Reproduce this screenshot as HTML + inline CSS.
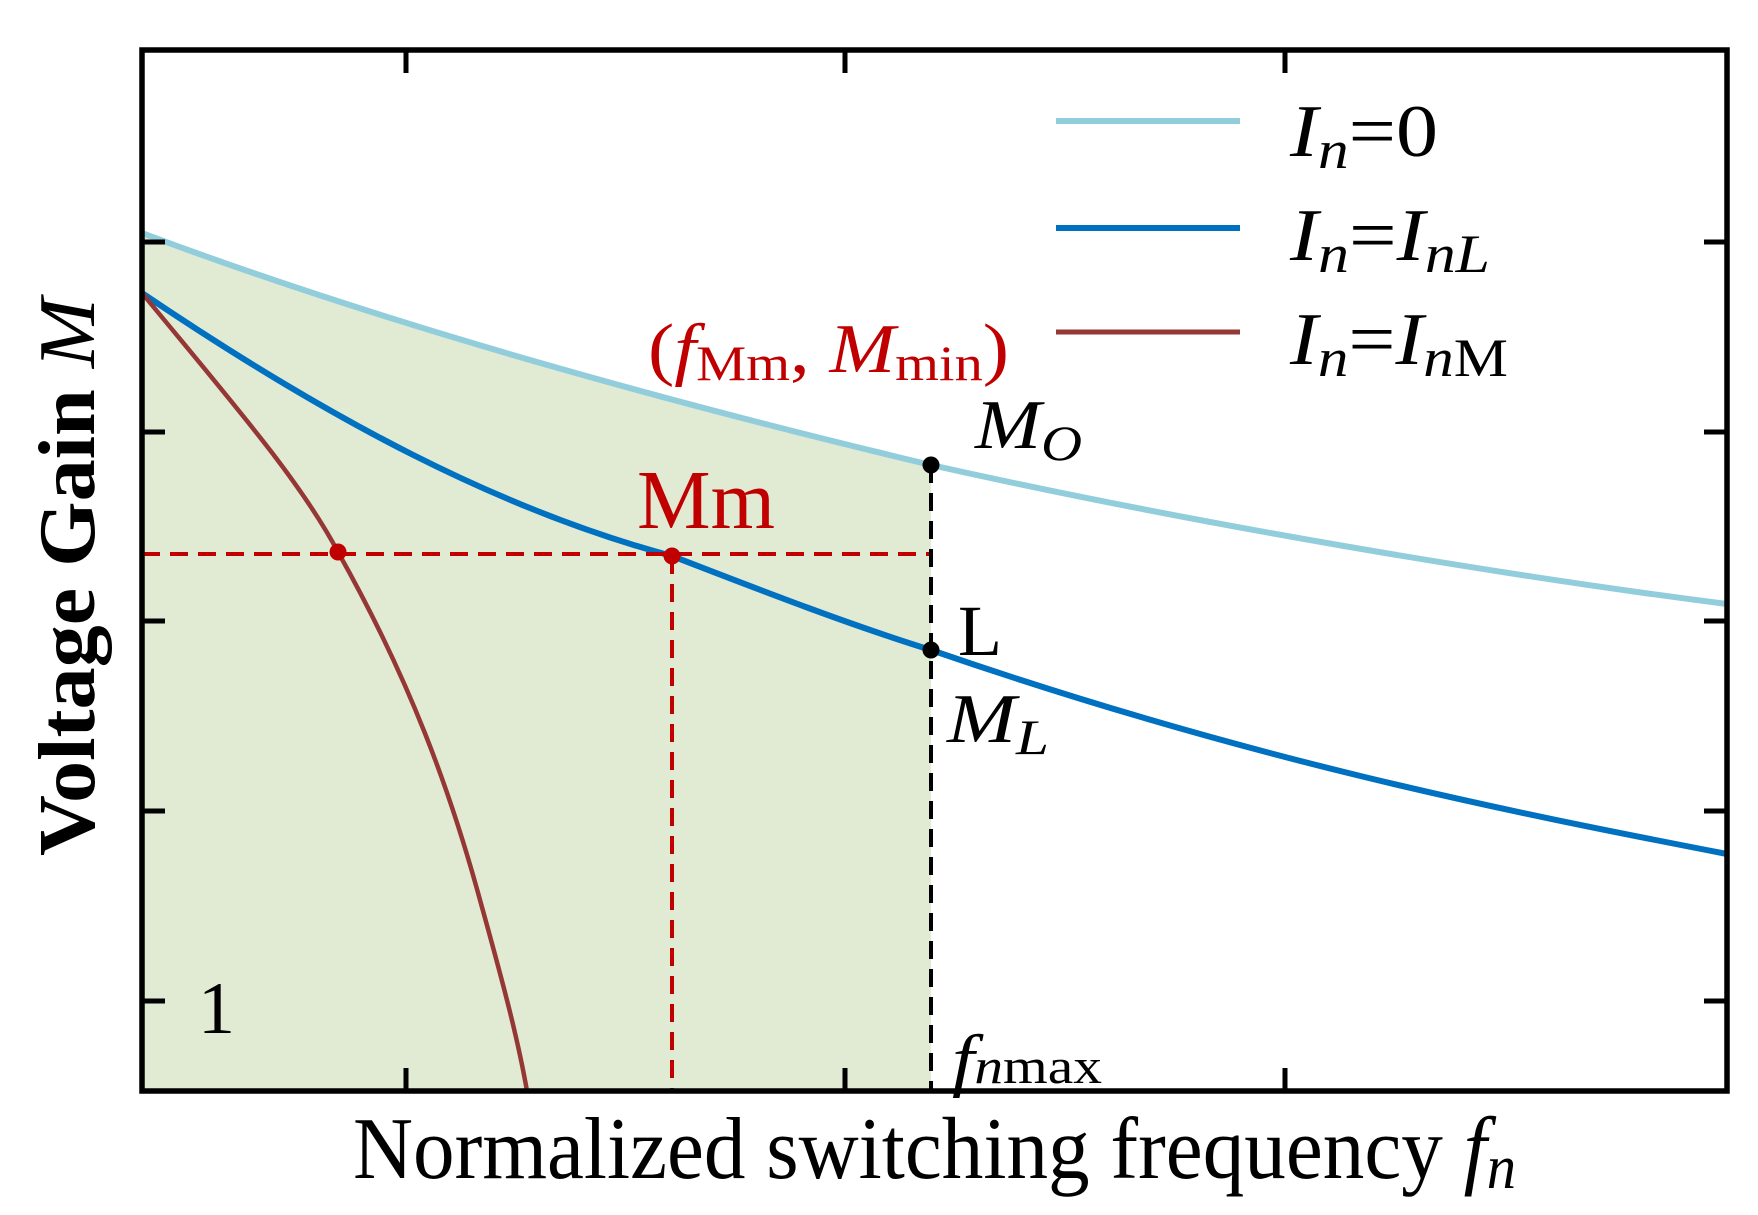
<!DOCTYPE html>
<html><head><meta charset="utf-8"><style>html,body{margin:0;padding:0;background:#fff}svg{display:block}text{font-family:"Liberation Serif",serif}</style></head>
<body>
<svg width="1758" height="1215" viewBox="0 0 1758 1215" xmlns="http://www.w3.org/2000/svg">
<path d="M142,233 C400,330 700,410 931,465 L931,1091 L142,1091 Z" fill="#e1ead3"/>
<path d="M142,233 C400,330 700,410 931,465 C1200,525 1500,575 1727,604" fill="none" stroke="#92cddc" stroke-width="6"/>
<path d="M142,293 C330,420 500,510 672,556 C760,590 850,625 931,650 C1250,760 1500,810 1727,854" fill="none" stroke="#0070c0" stroke-width="6"/>
<path d="M142,293 C230,400 300,480 338,552 C410,680 450,790 480,900 C505,990 518,1040 527,1091" fill="none" stroke="#953735" stroke-width="4.5"/>
<g stroke="#c00000" stroke-width="4" stroke-dasharray="18,10" fill="none">
<line x1="142" y1="554" x2="931" y2="554"/>
<line x1="672" y1="556" x2="672" y2="1091"/>
</g>
<line x1="931" y1="465" x2="931" y2="1091" stroke="#000" stroke-width="4" stroke-dasharray="18,10"/>
<circle cx="931" cy="465" r="8.5" fill="#000"/><circle cx="931" cy="650" r="8.5" fill="#000"/>
<circle cx="338" cy="552" r="8.5" fill="#c00000"/><circle cx="672" cy="556" r="8.5" fill="#c00000"/>
<rect x="142" y="50" width="1585" height="1041" fill="none" stroke="#000" stroke-width="5.5"/>
<g stroke="#000" stroke-width="5">
<line x1="142" y1="242" x2="165" y2="242"/><line x1="142" y1="432" x2="165" y2="432"/><line x1="142" y1="621" x2="165" y2="621"/><line x1="142" y1="811" x2="165" y2="811"/><line x1="142" y1="1001" x2="165" y2="1001"/>
<line x1="1727" y1="242" x2="1704" y2="242"/><line x1="1727" y1="432" x2="1704" y2="432"/><line x1="1727" y1="621" x2="1704" y2="621"/><line x1="1727" y1="811" x2="1704" y2="811"/><line x1="1727" y1="1001" x2="1704" y2="1001"/>
<line x1="406" y1="50" x2="406" y2="73"/><line x1="845" y1="50" x2="845" y2="73"/><line x1="1285" y1="50" x2="1285" y2="73"/>
<line x1="406" y1="1091" x2="406" y2="1068"/><line x1="845" y1="1091" x2="845" y2="1068"/><line x1="1285" y1="1091" x2="1285" y2="1068"/>
</g>
<line x1="1056" y1="121" x2="1240" y2="121" stroke="#92cddc" stroke-width="6"/>
<line x1="1056" y1="228" x2="1240" y2="228" stroke="#0070c0" stroke-width="6"/>
<line x1="1056" y1="332" x2="1240" y2="332" stroke="#953735" stroke-width="5"/>
<g font-size="74" fill="#000">
<text x="1290" y="156" textLength="148" lengthAdjust="spacingAndGlyphs"><tspan font-style="italic">I</tspan><tspan font-style="italic" font-size="54" dy="12">n</tspan><tspan dy="-12">=0</tspan></text>
<text x="1290" y="260" textLength="200" lengthAdjust="spacingAndGlyphs"><tspan font-style="italic">I</tspan><tspan font-style="italic" font-size="54" dy="12">n</tspan><tspan dy="-12">=</tspan><tspan font-style="italic">I</tspan><tspan font-style="italic" font-size="54" dy="12">nL</tspan></text>
<text x="1290" y="364" textLength="218" lengthAdjust="spacingAndGlyphs"><tspan font-style="italic">I</tspan><tspan font-style="italic" font-size="54" dy="12">n</tspan><tspan dy="-12">=</tspan><tspan font-style="italic">I</tspan><tspan font-size="54" dy="12"><tspan font-style="italic">n</tspan>M</tspan></text>
</g>
<text x="648" y="372" font-size="70" fill="#c00000" textLength="361" lengthAdjust="spacingAndGlyphs">(<tspan font-style="italic">f</tspan><tspan font-size="50" dy="8">Mm</tspan><tspan dy="-8">, </tspan><tspan font-style="italic">M</tspan><tspan font-size="50" dy="8">min</tspan><tspan dy="-8">)</tspan></text>
<text x="637" y="528" font-size="84" fill="#c00000" textLength="138" lengthAdjust="spacingAndGlyphs">Mm</text>
<text x="975" y="448" font-size="70" font-style="italic" textLength="107" lengthAdjust="spacingAndGlyphs">M<tspan font-size="50" dy="12">O</tspan></text>
<text x="958" y="655" font-size="72">L</text>
<text x="947" y="742" font-size="70" font-style="italic" textLength="102" lengthAdjust="spacingAndGlyphs">M<tspan font-size="50" dy="12">L</tspan></text>
<text x="952" y="1083" font-size="70" font-style="italic" textLength="150" lengthAdjust="spacingAndGlyphs">f<tspan font-size="50">n</tspan><tspan font-size="50" font-style="normal">max</tspan></text>
<text x="198" y="1033" font-size="74">1</text>
<text x="353" y="1178" font-size="88" textLength="1163" lengthAdjust="spacingAndGlyphs">Normalized switching frequency <tspan font-style="italic">f</tspan><tspan font-style="italic" font-size="62" dy="10">n</tspan></text>
<text transform="translate(94,577) rotate(-90)" text-anchor="middle" font-size="80" font-weight="bold" textLength="558" lengthAdjust="spacingAndGlyphs">Voltage Gain <tspan font-style="italic" font-weight="normal">M</tspan></text>
</svg>
</body></html>
